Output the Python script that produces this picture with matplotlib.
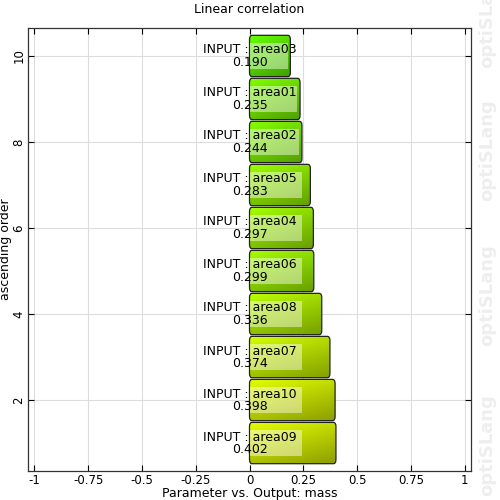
import numpy as np
import matplotlib
matplotlib.use("Agg")
import matplotlib.pyplot as plt
from matplotlib.patches import FancyBboxPatch, Rectangle
from matplotlib.colors import to_rgb

names  = ['area09', 'area10', 'area07', 'area08', 'area06',
          'area04', 'area05', 'area02', 'area01', 'area03']
values = [0.402, 0.398, 0.374, 0.336, 0.299, 0.297, 0.283, 0.244, 0.235, 0.190]
order  = [1, 2, 3, 4, 5, 6, 7, 8, 9, 10]

xticks = [-1, -0.75, -0.5, -0.25, 0, 0.25, 0.5, 0.75, 1]
xticklabels = ['-1', '-0.75', '-0.5', '-0.25', '0', '0.25', '0.5', '0.75', '1']

plt.rcParams['font.family'] = 'DejaVu Sans'

fig = plt.figure(figsize=(5, 5), dpi=100)
ax = fig.add_axes([0.056, 0.058, 0.886, 0.886])

lo = np.array(to_rgb('#66ff00'))
hi = np.array(to_rgb('#e4ff00'))
vmin, vmax = min(values), max(values)

h = 0.96
yy_, xx_ = np.mgrid[0:1:48j, 0:1:48j]
for name, v, y in zip(names, values, order):
    t = (v - vmin) / (vmax - vmin)
    base = lo + (hi - lo) * t
    patch = FancyBboxPatch((0, y - h/2), v, h,
                           boxstyle="round,pad=0,rounding_size=0.012",
                           mutation_aspect=8,
                           facecolor='none', edgecolor='#222222', lw=0.9, zorder=3)
    ax.add_patch(patch)
    # darker towards bottom right
    shade = 1 - 0.38 * (0.65 * (1 - yy_) + 0.35 * xx_)
    img = base[None, None, :] * shade[:, :, None]
    im = ax.imshow(img, extent=(0, v, y - h/2, y + h/2), origin='lower',
                   aspect='auto', zorder=2, interpolation='bilinear')
    im.set_clip_path(patch)
    hw = min(v - 0.012, 0.245)
    ax.add_patch(Rectangle((0, y - 0.3), hw, 0.6, facecolor='white',
                           alpha=0.45, edgecolor='none', zorder=4))
    ax.text(0, y + 0.14, 'INPUT : ' + name, ha='center', va='center',
            fontsize=9, zorder=5)
    ax.text(0, y - 0.16, '%.3f' % v, ha='center', va='center',
            fontsize=9, zorder=5)

ax.set_xlim(-1.03, 1.03)
ax.set_ylim(0.35, 10.65)
ax.set_xticks(xticks)
ax.set_xticklabels(xticklabels)
ax.set_yticks([2, 4, 6, 8, 10])
ax.tick_params(direction='in', top=True, right=True, labelsize=8.5,
               length=4, width=0.8, pad=2)
ax.tick_params(axis='y', labelrotation=90)
for lbl in ax.get_yticklabels():
    lbl.set_va('center')
ax.grid(True, color='#dddddd', lw=0.8, zorder=0)
ax.set_axisbelow(True)
for s in ax.spines.values():
    s.set_color('#333333')
    s.set_linewidth(0.9)

ax.set_title('Linear correlation', fontsize=9, pad=11)
ax.set_xlabel('Parameter vs. Output: mass', fontsize=9)
ax.set_ylabel('ascending order', fontsize=9)
ax.xaxis.set_label_coords(0.5, -0.036)
ax.yaxis.set_label_coords(-0.035, 0.5)

for yy in [0.965, 0.70, 0.41, 0.11]:
    fig.text(0.975, yy, 'optiSLang', rotation=90, ha='center', va='center',
             fontsize=13, fontweight='bold', color='#eeeeee')

plt.savefig('out.png', dpi=100)
